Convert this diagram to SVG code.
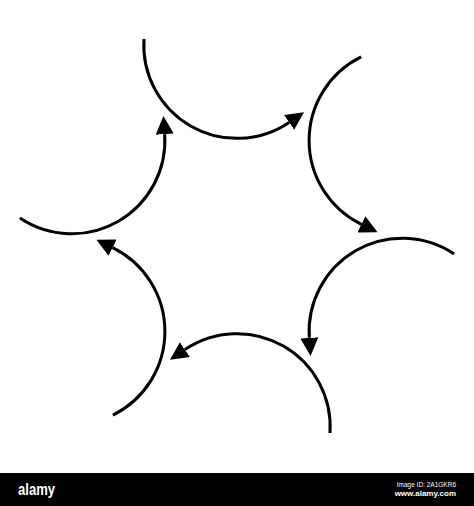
<svg xmlns="http://www.w3.org/2000/svg" width="474" height="506" viewBox="0 0 474 506">
  <defs>
    <style>
      .arc { fill: none; stroke: #000; stroke-width: 3; stroke-linecap: butt; marker-end: url(#head); }
      .wm { fill: #fff; font-family: "Liberation Sans", Arial, sans-serif; }
    </style>
    <marker id="head" markerUnits="userSpaceOnUse" markerWidth="18" markerHeight="18" refX="0" refY="8" orient="auto" viewBox="0 0 16 16">
      <path d="M0,0 L16,8 L0,16 Z" fill="#000"/>
    </marker>
    <path id="arcShape" d="M144,39 A93.2,93.2 0 0 0 289.1,122.4"/>
  </defs>
  <rect x="0" y="0" width="474" height="506" fill="#fff"/>
  <g id="arcs">
    <use id="arc1" class="arc" href="#arcShape"/>
    <use id="arc2" class="arc" href="#arcShape" transform="rotate(60 237 236)"/>
    <use id="arc3" class="arc" href="#arcShape" transform="rotate(120 237 236)"/>
    <use id="arc4" class="arc" href="#arcShape" transform="rotate(180 237 236)"/>
    <use id="arc5" class="arc" href="#arcShape" transform="rotate(240 237 236)"/>
    <use id="arc6" class="arc" href="#arcShape" transform="rotate(300 237 236)"/>
  </g>
  <g id="watermark">
    <rect x="0" y="473" width="474" height="33" fill="#000"/>
    <text class="wm" x="18" y="495" font-size="17" font-weight="bold" textLength="37" lengthAdjust="spacingAndGlyphs">alamy</text>
    <text class="wm" x="456" y="487" font-size="6.5" text-anchor="end">Image ID: 2A1GKR6</text>
    <text class="wm" x="456" y="496" font-size="8" font-weight="bold" text-anchor="end">www.alamy.com</text>
  </g>
</svg>
